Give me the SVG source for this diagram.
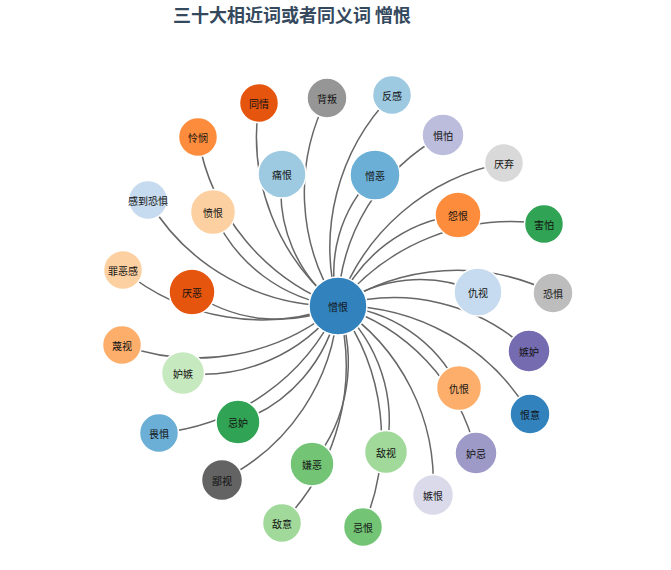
<svg xmlns="http://www.w3.org/2000/svg" width="671" height="570" viewBox="0 0 671 570">
<style>
  .bg { fill: #ffffff; }
  .title { font-family: "Noto Sans CJK SC", "Noto Sans", sans-serif; font-size: 18px; font-weight: bold; fill: #34495e; text-anchor: middle; }
  .link { fill: none; stroke: #666666; stroke-width: 1.5; }
  .node circle { stroke: #ffffff; stroke-width: 1.5; }
  .node text { font-family: "Noto Sans CJK SC", "Noto Sans", sans-serif; font-size: 10px; fill: #111111; text-anchor: middle; dominant-baseline: central; }
</style>
<rect class="bg" x="0" y="0" width="671" height="570"/>
<text class="title" x="292" y="22">三十大相近词或者同义词 憎恨</text>
<g id="links">
  <path class="link" d="M338,306 A217.8,217.8 0 0,1 259,103"/>
  <path class="link" d="M338,306 A208.3,208.3 0 0,1 327,98"/>
  <path class="link" d="M338,306 A217.8,217.8 0 0,1 392,95"/>
  <path class="link" d="M338,306 A200.7,200.7 0 0,1 443,135"/>
  <path class="link" d="M338,306 A219.1,219.1 0 0,1 504,163"/>
  <path class="link" d="M338,306 A219.5,219.5 0 0,1 198,137"/>
  <path class="link" d="M338,306 A143.4,143.4 0 0,1 282,174"/>
  <path class="link" d="M338,306 A136.1,136.1 0 0,1 375,175"/>
  <path class="link" d="M338,306 A150.6,150.6 0 0,1 458,215"/>
  <path class="link" d="M338,306 A221.7,221.7 0 0,1 544,224"/>
  <path class="link" d="M338,306 A217.6,217.6 0 0,1 148,200"/>
  <path class="link" d="M338,306 A156.4,156.4 0 0,1 213,212"/>
  <path class="link" d="M338,306 A218,218 0 0,1 123,270"/>
  <path class="link" d="M338,306 A146.7,146.7 0 0,1 192,292"/>
  <path class="link" d="M338,306 A140.7,140.7 0 0,1 478,292"/>
  <path class="link" d="M338,306 A215.4,215.4 0 0,1 553,293"/>
  <path class="link" d="M338,306 A219.5,219.5 0 0,1 122,345"/>
  <path class="link" d="M338,306 A168.9,168.9 0 0,1 183,373"/>
  <path class="link" d="M338,306 A196.2,196.2 0 0,1 529,351"/>
  <path class="link" d="M338,306 A146.2,146.2 0 0,1 459,388"/>
  <path class="link" d="M338,306 A220.3,220.3 0 0,1 530,414"/>
  <path class="link" d="M338,306 A153.2,153.2 0 0,1 238,422"/>
  <path class="link" d="M338,306 A219.5,219.5 0 0,1 159,433"/>
  <path class="link" d="M338,306 A153.7,153.7 0 0,1 386,452"/>
  <path class="link" d="M338,306 A201.6,201.6 0 0,1 476,453"/>
  <path class="link" d="M338,306 A209.1,209.1 0 0,1 222,480"/>
  <path class="link" d="M338,306 A160.1,160.1 0 0,1 312,464"/>
  <path class="link" d="M338,306 A211.5,211.5 0 0,1 433,495"/>
  <path class="link" d="M338,306 A224.1,224.1 0 0,1 282,523"/>
  <path class="link" d="M338,306 A222.4,222.4 0 0,1 363,527"/>
</g>
<g id="n0" class="node"><circle cx="338" cy="306" r="29" fill="#3182bd"/><text x="338" y="306">憎恨</text></g>
<g id="n1" class="node"><circle cx="375" cy="175" r="25" fill="#6baed6"/><text x="375" y="175">憎恶</text></g>
<g id="n2" class="node"><circle cx="282" cy="174" r="24" fill="#9ecae1"/><text x="282" y="174">痛恨</text></g>
<g id="n3" class="node"><circle cx="478" cy="292" r="24" fill="#c6dbef"/><text x="478" y="292">仇视</text></g>
<g id="n4" class="node"><circle cx="192" cy="292" r="23" fill="#e6550d"/><text x="192" y="292">厌恶</text></g>
<g id="n5" class="node"><circle cx="458" cy="215" r="23" fill="#fd8d3c"/><text x="458" y="215">怨恨</text></g>
<g id="n6" class="node"><circle cx="459" cy="388" r="22.5" fill="#fdae6b"/><text x="459" y="388">仇恨</text></g>
<g id="n7" class="node"><circle cx="213" cy="212" r="22.5" fill="#fdd0a2"/><text x="213" y="212">愤恨</text></g>
<g id="n8" class="node"><circle cx="238" cy="422" r="22" fill="#31a354"/><text x="238" y="422">忌妒</text></g>
<g id="n9" class="node"><circle cx="312" cy="464" r="22" fill="#74c476"/><text x="312" y="464">嫌恶</text></g>
<g id="n10" class="node"><circle cx="386" cy="452" r="21.5" fill="#a1d99b"/><text x="386" y="452">敌视</text></g>
<g id="n11" class="node"><circle cx="183" cy="373" r="21.5" fill="#c7e9c0"/><text x="183" y="373">妒嫉</text></g>
<g id="n12" class="node"><circle cx="529" cy="351" r="21" fill="#756bb1"/><text x="529" y="351">嫉妒</text></g>
<g id="n13" class="node"><circle cx="476" cy="453" r="21" fill="#9e9ac8"/><text x="476" y="453">妒忌</text></g>
<g id="n14" class="node"><circle cx="443" cy="135" r="21" fill="#bcbddc"/><text x="443" y="135">惧怕</text></g>
<g id="n15" class="node"><circle cx="433" cy="495" r="20.5" fill="#dadaeb"/><text x="433" y="495">嫉恨</text></g>
<g id="n16" class="node"><circle cx="222" cy="480" r="20.5" fill="#636363"/><text x="222" y="480">鄙视</text></g>
<g id="n17" class="node"><circle cx="327" cy="98" r="20" fill="#969696"/><text x="327" y="98">背叛</text></g>
<g id="n18" class="node"><circle cx="553" cy="293" r="20" fill="#bdbdbd"/><text x="553" y="293">恐惧</text></g>
<g id="n19" class="node"><circle cx="504" cy="163" r="19.5" fill="#d9d9d9"/><text x="504" y="163">厌弃</text></g>
<g id="n20" class="node"><circle cx="530" cy="414" r="20" fill="#3182bd"/><text x="530" y="414">恨意</text></g>
<g id="n21" class="node"><circle cx="159" cy="433" r="19.5" fill="#6baed6"/><text x="159" y="433">畏惧</text></g>
<g id="n22" class="node"><circle cx="392" cy="95" r="19.5" fill="#9ecae1"/><text x="392" y="95">反感</text></g>
<g id="n23" class="node"><circle cx="148" cy="200" r="19.5" fill="#c6dbef"/><text x="148" y="200">感到恐惧</text></g>
<g id="n24" class="node"><circle cx="259" cy="103" r="19.5" fill="#e6550d"/><text x="259" y="103">同情</text></g>
<g id="n25" class="node"><circle cx="198" cy="137" r="19.5" fill="#fd8d3c"/><text x="198" y="137">怜悯</text></g>
<g id="n26" class="node"><circle cx="122" cy="345" r="19.5" fill="#fdae6b"/><text x="122" y="345">蔑视</text></g>
<g id="n27" class="node"><circle cx="123" cy="270" r="19.5" fill="#fdd0a2"/><text x="123" y="270">罪恶感</text></g>
<g id="n28" class="node"><circle cx="544" cy="224" r="19.5" fill="#31a354"/><text x="544" y="224">害怕</text></g>
<g id="n29" class="node"><circle cx="363" cy="527" r="19.5" fill="#74c476"/><text x="363" y="527">忌恨</text></g>
<g id="n30" class="node"><circle cx="282" cy="523" r="19.5" fill="#a1d99b"/><text x="282" y="523">敌意</text></g>
</svg>
